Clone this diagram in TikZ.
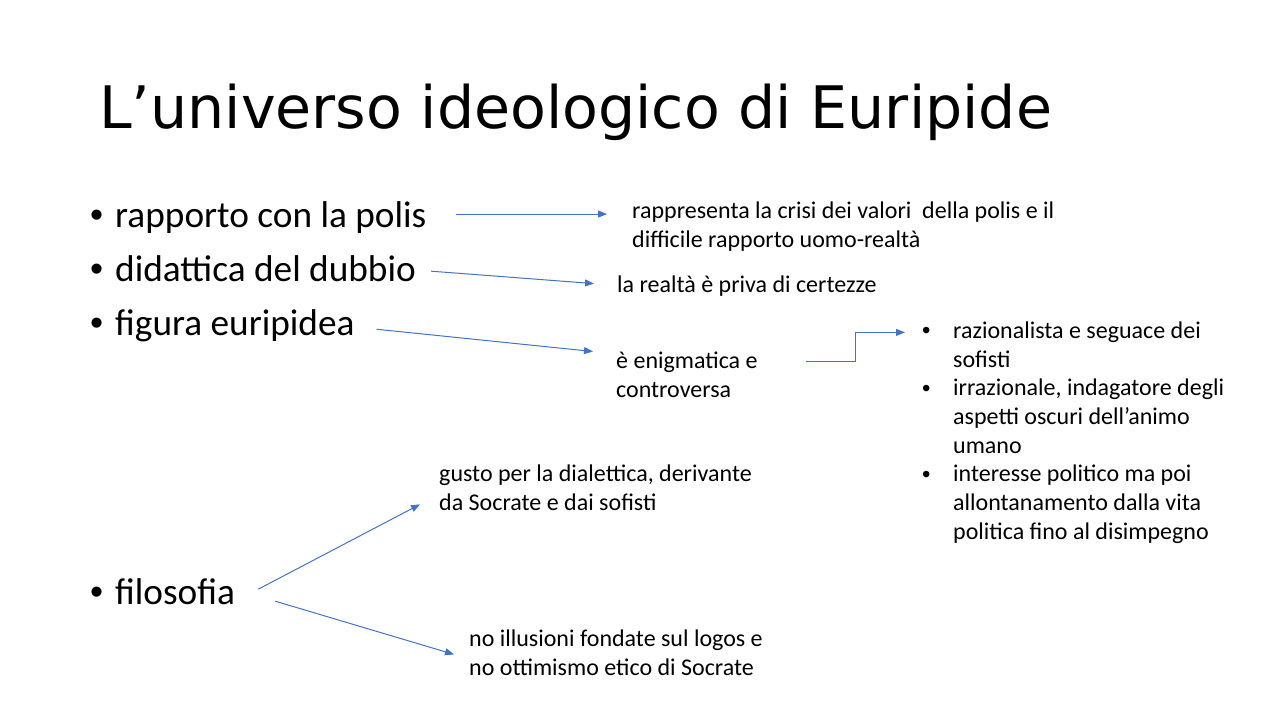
\documentclass[tikz,border=0pt]{standalone}
\usepackage{fontspec}
\setmainfont{Carlito}
\newfontfamily\titlefont{DejaVu Sans}
\newfontfamily\bulletfont{Liberation Sans}
\usetikzlibrary{positioning,arrows.meta}
\definecolor{arrblue}{HTML}{4472C4}

\begin{document}
\begin{tikzpicture}[x=1pt,y=-1pt,
  txt/.style={anchor=base west,inner sep=0pt,align=left},
  big/.style={txt,font=\fontsize{37.3}{44}\selectfont},
  small/.style={txt,font=\fontsize{24}{28.7}\selectfont},
  arr/.style={draw=arrblue,line width=1pt,-{Triangle[length=9pt,width=7pt]}}]
\useasboundingbox (0,0) rectangle (1280,720);
\node[txt,font=\titlefont\fontsize{58.6}{70}\selectfont] (title) at (99,128) {L’universo ideologico di Euripide};
% left column
\node[big] (polis) at (90,227) {\makebox[25pt][l]{\bulletfont•}rapporto con la polis};
\node[big] (dubbio) at (90,281) {\makebox[25pt][l]{\bulletfont•}didattica del dubbio};
\node[big] (figura) at (90,335) {\makebox[25pt][l]{\bulletfont•}figura euripidea};
\node[big] (filo) at (90,604) {\makebox[25pt][l]{\bulletfont•}filosofia};
% answers (anchored on the last line)
\node[small] (crisi) at (632,247) {rappresenta la crisi dei valori\ \ della polis e il\\difficile rapporto uomo-realtà};
\node[small] (certezze) at (617,292) {la realtà è priva di certezze};
\node[small] (enigma) at (616,397) {è enigmatica e\\controversa};
\node[small] (gusto) at (439,510) {gusto per la dialettica, derivante\\da Socrate e dai sofisti};
\node[small] (illus) at (469,675) {no illusioni fondate sul logos e\\no ottimismo etico di Socrate};
% list on the right
\foreach \y/\z/\name/\t in {338/367/b1/{razionalista e seguace dei\\sofisti},
    396/453/b2/{irrazionale, indagatore degli\\aspetti oscuri dell’animo\\umano},
    482/539/b3/{interesse politico ma poi\\allontanamento dalla vita\\politica fino al disimpegno}}{
  \node[small,font=\bulletfont\fontsize{24}{28.7}\selectfont] (\name) at (922,\y) {•};
  \node[small] (\name t) at (953,\z) {\t};
}
% arrows
\draw[arr] ([xshift=29pt,yshift=3pt]polis.east) -- ([xshift=-25pt,yshift=3pt]polis.east -| crisi.west);
\draw[arr] ([xshift=15pt,yshift=-3pt]dubbio.east) -- ([xshift=-23pt,yshift=2pt]certezze.west);
\draw[arr] ([xshift=22pt,yshift=-4pt]figura.east) -- ([xshift=-23pt]enigma.north west);
\draw[arr] ([xshift=48pt,yshift=-10pt]enigma.north east) -- ++(50,0) |- ([xshift=-17pt]b1.west);
\draw[arr] ([xshift=23pt,yshift=2pt]filo.east) -- ([xshift=-19pt,yshift=6pt]gusto.south west);
\draw[arr] ([xshift=40pt,yshift=-10pt]filo.east) -- ([xshift=-15pt,yshift=-2pt]illus.west);
\end{tikzpicture}
\end{document}
